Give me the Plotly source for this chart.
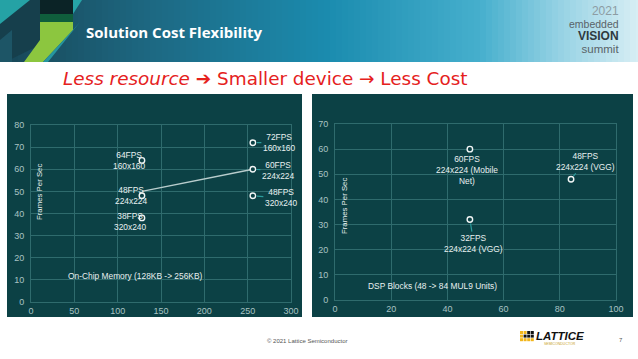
import plotly.graph_objects as go

W, H = 638, 359

# ---------------- data ----------------
mem_kb = [128, 128, 128, 256, 256, 256]
mem_fps = [64, 48, 38, 72, 60, 48]
mem_labels = ["64FPS<br>160x160", "48FPS<br>224x224", "38FPS<br>320x240",
              "72FPS<br>160x160", "60FPS<br>224x224", "48FPS<br>320x240"]
trend_kb = [128, 256]
trend_fps = [50, 60]

dsp_units = [48, 48, 84]
dsp_fps = [60, 32, 48]
dsp_labels = ["60FPS<br>224x224 (Mobile<br>Net)", "32FPS<br>224x224 (VGG)", "48FPS<br>224x224 (VGG)"]

mem_xticks = [0, 50, 100, 150, 200, 250, 300]
mem_yticks = [0, 10, 20, 30, 40, 50, 60, 70, 80]
dsp_xticks = [0, 20, 40, 60, 80, 100]
dsp_yticks = [0, 10, 20, 30, 40, 50, 60, 70]

# ---------------- styles ----------------
PANEL = "#0c4145"
GRID = "#2f6b6d"
TICK = "#a9c3c3"
LABEL = "#e8f0f0"
LEAD = "#2a9c9c"
FONT = "Liberation Sans"


def px(x):
    return x / W


def py(y):
    return 1 - y / H


fig = go.Figure()

# trend line (left chart)
fig.add_trace(go.Scatter(x=trend_kb, y=trend_fps, mode="lines",
                         line=dict(color="#b9cdcd", width=1.5),
                         xaxis="x", yaxis="y", hoverinfo="skip"))
# markers
marker = dict(symbol="circle", size=5.5, color=PANEL, line=dict(color="#f2f6f6", width=1.4))
fig.add_trace(go.Scatter(x=mem_kb, y=mem_fps, mode="markers", marker=marker,
                         xaxis="x", yaxis="y"))
fig.add_trace(go.Scatter(x=dsp_units, y=dsp_fps, mode="markers", marker=marker,
                         xaxis="x2", yaxis="y2"))

annotations = []
lab_font = dict(family=FONT, size=8.4, color=LABEL)
# label placements (pixel offsets)
mem_place = [(-13, 0, False), (-11, 0, False), (-12, -4, False),
             (26, 0, True), (25, 1.5, True), (28, 2, True)]
for xv, yv, t, (dx, dy, arrow) in zip(mem_kb, mem_fps, mem_labels, mem_place):
    if arrow:
        annotations.append(dict(x=xv, y=yv, xref="x", yref="y", text=t, showarrow=True,
                                ax=dx, ay=dy, arrowhead=0, arrowwidth=1.2, arrowcolor=LEAD,
                                standoff=4, font=lab_font, align="center"))
    else:
        annotations.append(dict(x=xv, y=yv, xref="x", yref="y", text=t, showarrow=False,
                                xshift=dx, yshift=dy, xanchor="center", yanchor="middle",
                                font=lab_font, align="center"))

dsp_place = [(-3, 21, False), (4, 24, True), (14, -18, True)]
for xv, yv, t, (dx, dy, arrow) in zip(dsp_units, dsp_fps, dsp_labels, dsp_place):
    if arrow:
        annotations.append(dict(x=xv, y=yv, xref="x2", yref="y2", text=t, showarrow=True,
                                ax=dx, ay=dy, arrowhead=0, arrowwidth=1.2, arrowcolor=LEAD,
                                standoff=4, font=lab_font, align="center"))
    else:
        annotations.append(dict(x=xv, y=yv, xref="x2", yref="y2", text=t, showarrow=False,
                                xshift=dx, yshift=-dy, xanchor="center", yanchor="middle",
                                font=lab_font, align="center"))

# axis-like texts
for (x, y) in [(39, 192), (344, 206)]:
    annotations.append(dict(x=px(x), y=py(y), xref="paper", yref="paper", text="Frames Per Sec",
                            textangle=-90, showarrow=False, xanchor="center", yanchor="middle",
                            font=dict(family=FONT, size=7.8, color=LABEL)))
annotations.append(dict(x=px(135), y=py(276), xref="paper", yref="paper",
                        text="On-Chip Memory (128KB -> 256KB)", showarrow=False,
                        xanchor="center", yanchor="middle", font=lab_font))
annotations.append(dict(x=px(432), y=py(286), xref="paper", yref="paper",
                        text="DSP Blocks (48 -> 84 MUL9 Units)", showarrow=False,
                        xanchor="center", yanchor="middle", font=lab_font))

# title + subtitle
annotations.append(dict(x=px(84), y=py(32), xref="paper", yref="paper",
                        text="<b>Solution Cost Flexibility</b>", showarrow=False,
                        xanchor="left", yanchor="middle", align="left",
                        font=dict(family="Open Sans", size=15, color="white")))
annotations.append(dict(x=px(61), y=py(78), xref="paper", yref="paper",
                        text="<i>Less resource</i> <b>➔</b> Smaller device → Less Cost",
                        showarrow=False, xanchor="left", yanchor="middle", align="left",
                        font=dict(family="DejaVu Sans", size=18.4, color="#e5211d")))

# logo (top right) as one stacked text
logo_text = ("<span style='font-size:12px;color:#8d9ca3'>2021</span><br>"
             "<span style='font-size:10.5px;color:#5a6368'>embedded</span><br>"
             "<span style='font-size:12px;color:#2f3a40'><b>VISION</b></span><br>"
             "<span style='font-size:11.5px;color:#5a6368'>summit</span>")
annotations.append(dict(x=px(621), y=py(29), xref="paper", yref="paper",
                        text=logo_text, showarrow=False, xanchor="right", yanchor="middle",
                        align="right", font=dict(family="Liberation Sans", size=9.7, color="#5a6368")))

# footer
annotations.append(dict(x=px(307), y=py(341), xref="paper", yref="paper",
                        text="© 2021 Lattice Semiconductor", showarrow=False,
                        xanchor="center", yanchor="middle",
                        font=dict(family="Liberation Sans", size=6, color="#555555")))
annotations.append(dict(x=px(560), y=py(335.5), xref="paper", yref="paper",
                        text="<b><i>LATTICE</i></b>", showarrow=False,
                        xanchor="center", yanchor="middle",
                        font=dict(family="Liberation Sans", size=11.5, color="#111111")))
annotations.append(dict(x=px(560), y=py(344), xref="paper", yref="paper",
                        text="SEMICONDUCTOR", showarrow=False,
                        xanchor="center", yanchor="middle",
                        font=dict(family="Liberation Sans", size=3.5, color="#c9a227")))
annotations.append(dict(x=px(621), y=py(340), xref="paper", yref="paper",
                        text="7", showarrow=False, xanchor="center", yanchor="middle",
                        font=dict(family="Liberation Sans", size=6, color="#555555")))

shapes = []


def rect(x0, y0, x1, y1, color, layer="below"):
    shapes.append(dict(type="rect", xref="paper", yref="paper", x0=px(x0), x1=px(x1),
                       y0=py(y1), y1=py(y0), fillcolor=color, line=dict(width=0), layer=layer))


def poly(pts, color, layer="below"):
    path = "M " + " L ".join(f"{px(x)},{py(y)}" for x, y in pts) + " Z"
    shapes.append(dict(type="path", xref="paper", yref="paper", path=path,
                       fillcolor=color, line=dict(width=0), layer=layer))


# header gradient strips
stops = [(0, (24, 70, 86)), (150, (29, 104, 130)), (330, (27, 140, 175)),
         (480, (70, 175, 205)), (560, (150, 210, 228)), (638, (215, 238, 244))]


def col_at(x):
    for (x0, c0), (x1, c1) in zip(stops[:-1], stops[1:]):
        if x0 <= x <= x1:
            f = (x - x0) / (x1 - x0)
            return "rgb(%d,%d,%d)" % tuple(round(a + (b - a) * f) for a, b in zip(c0, c1))
    return "rgb(%d,%d,%d)" % stops[-1][1]


step = 6
for x in range(0, W, step):
    rect(x, 0, x + step + 0.6, 62, col_at(x + step / 2))

# header decorative shapes
poly([(0, 0), (40, 0), (40, 45), (5, 62), (0, 62)], "#163f4c")
poly([(0, 0), (30, 0), (0, 24)], "#25a2a5")
poly([(0, 40), (12, 30), (12, 62), (0, 62)], "#1d5566")
rect(40, 0, 73, 14, "#0b2326")
rect(40, 14, 73, 22, "#0f5e3c")
poly([(40, 22), (73, 22), (73, 30), (43, 62), (24, 62), (40, 40)], "#8cc63f")
poly([(73, 0), (82, 0), (73, 14)], "#26a5a8")
poly([(73, 30), (80, 22), (48, 62), (43, 62)], "#2596a0")

# chart panels
rect(7, 94, 302, 317, PANEL)
rect(312, 94, 633, 317, PANEL)

# lattice logo squares
sq_cols = [["#f2b61c", "#f2b61c", "#111111", "#111111"],
           ["#f2b61c", "#111111", "#111111", "#111111"],
           ["#f2b61c", "#f2b61c", "#f2b61c", "#f2b61c"]]
for r, row in enumerate(sq_cols):
    for c, colr in enumerate(row):
        rect(520 + c * 3.6, 331 + r * 3.6, 523 + c * 3.6, 334 + r * 3.6, colr, layer="above")

axis_common = dict(showgrid=True, gridcolor=GRID, gridwidth=1, zeroline=False,
                   showline=True, linecolor=GRID, linewidth=1, mirror=True, ticks="",
                   automargin=False,
                   tickfont=dict(family=FONT, size=9, color=TICK), fixedrange=True)

fig.update_layout(
    width=W, height=H, margin=dict(l=0, r=0, t=0, b=0, pad=0),
    paper_bgcolor="white", plot_bgcolor="rgba(0,0,0,0)", showlegend=False,
    xaxis=dict(domain=[px(31), px(291)], range=[0, 300], tickvals=mem_xticks,
               anchor="y", **axis_common),
    yaxis=dict(domain=[py(302), py(125)], range=[0, 80], tickvals=mem_yticks,
               anchor="x", ticklabelstandoff=4, **axis_common),
    xaxis2=dict(domain=[px(335), px(616)], range=[0, 100], tickvals=dsp_xticks,
                anchor="y2", **axis_common),
    yaxis2=dict(domain=[py(300), py(124)], range=[0, 70], tickvals=dsp_yticks,
                anchor="x2", ticklabelstandoff=4, **axis_common),
    annotations=annotations, shapes=shapes,
)

fig.write_html("out.html", config={"displayModeBar": False},
               post_script="document.body.style.margin='0';document.body.style.padding='0';"
                           "document.body.style.overflow='hidden';")
